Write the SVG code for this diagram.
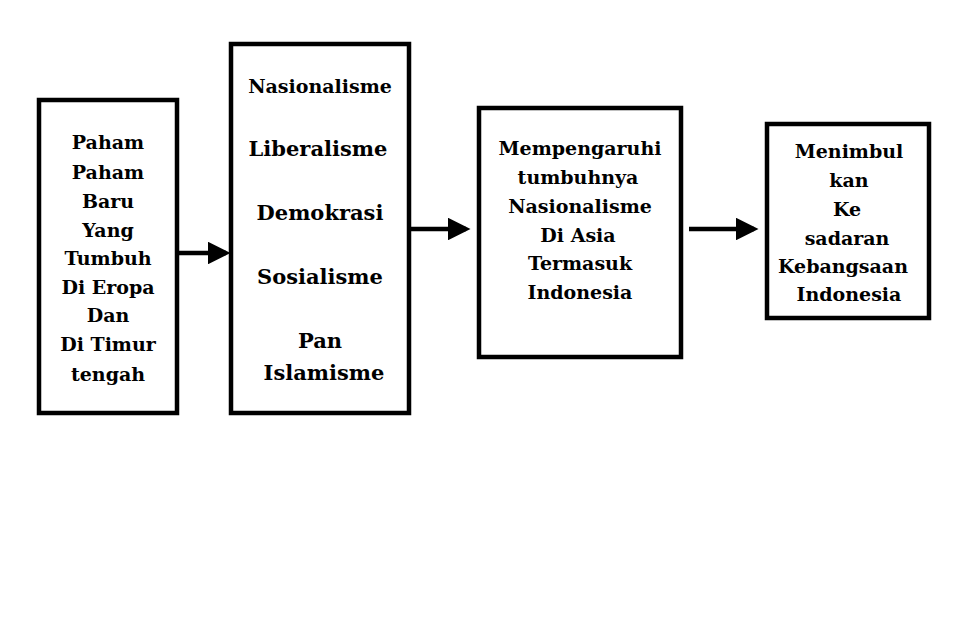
<svg xmlns="http://www.w3.org/2000/svg" width="960" height="630" viewBox="0 0 960 630">
<style>
.b{fill:#fff;stroke:#000;stroke-width:4.5}
text{font-family:"DejaVu Serif","Liberation Serif",serif;font-weight:bold;text-anchor:middle;fill:#000}
.s{font-size:19px}.m{font-size:21px}
.c{stroke:#000;stroke-width:4.5;fill:none}
</style>
<defs><marker id="a" markerWidth="5" markerHeight="5" refX="4" refY="2.5" orient="auto"><path d="M0,0L5,2.5L0,5z" fill="#000"/></marker></defs>
<rect width="960" height="630" fill="#fff"/>
<g id="n1"><rect class="b" x="39" y="100" width="138" height="313"/>
<text class="s" x="108" y="149">Paham</text><text class="s" x="108" y="179">Paham</text><text class="s" x="108" y="208">Baru</text><text class="s" x="108" y="237">Yang</text><text class="s" x="108" y="265">Tumbuh</text><text class="s" x="108" y="294">Di Eropa</text><text class="s" x="108" y="322">Dan</text><text class="s" x="108" y="351">Di Timur</text><text class="s" x="108" y="381">tengah</text></g>
<g id="n2"><rect class="b" x="231" y="44" width="178" height="369"/>
<text class="s" x="320" y="93">Nasionalisme</text><text class="m" x="318" y="156">Liberalisme</text><text class="m" x="320" y="220">Demokrasi</text><text class="m" x="320" y="284">Sosialisme</text><text class="m" x="320" y="348">Pan</text><text class="m" x="324" y="380">Islamisme</text></g>
<g id="n3"><rect class="b" x="479" y="108" width="202" height="249"/>
<text class="s" x="580" y="155">Mempengaruhi</text><text class="s" x="578" y="184">tumbuhnya</text><text class="s" x="580" y="213">Nasionalisme</text><text class="s" x="578" y="242">Di Asia</text><text class="s" x="580" y="270">Termasuk</text><text class="s" x="580" y="299">Indonesia</text></g>
<g id="n4"><rect class="b" x="767" y="124" width="162" height="194"/>
<text class="s" x="849" y="158">Menimbul</text><text class="s" x="849" y="187">kan</text><text class="s" x="847" y="216">Ke</text><text class="s" x="847" y="245">sadaran</text><text class="s" x="843" y="273">Kebangsaan</text><text class="s" x="849" y="301">Indonesia</text></g>
<g id="connectors">
<line class="c" x1="177" y1="253" x2="226" y2="253" marker-end="url(#a)"/>
<line class="c" x1="409" y1="229" x2="466" y2="229" marker-end="url(#a)"/>
<line class="c" x1="689" y1="229" x2="754" y2="229" marker-end="url(#a)"/>
</g>
</svg>
